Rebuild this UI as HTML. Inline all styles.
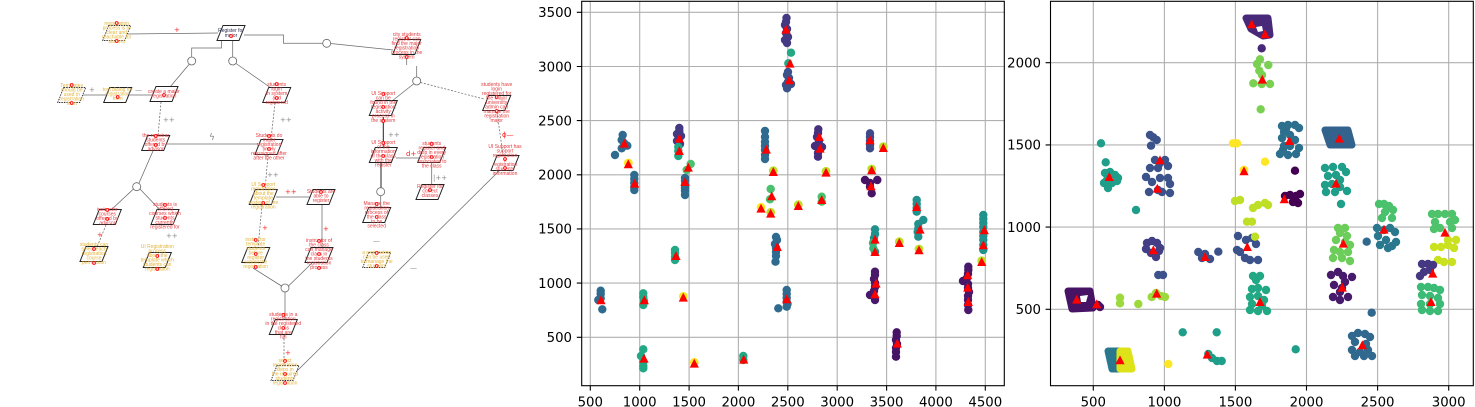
<!DOCTYPE html>
<html><head><meta charset="utf-8"><style>
html,body{margin:0;padding:0;background:#fff;}
svg{display:block;}
.tk{font-family:"DejaVu Sans","Liberation Sans",sans-serif;font-size:13.3px;fill:#000;}
.nt{font-family:"Liberation Sans","DejaVu Sans",sans-serif;font-size:5px;text-anchor:middle;}
.r{fill:#e23c40;} .y{fill:#e3b43a;} .d{fill:#2a3050;}
.lbl{font-family:"DejaVu Sans",sans-serif;font-size:7px;}
</style></head><body>
<svg width="1475" height="407" viewBox="0 0 1475 407" xmlns="http://www.w3.org/2000/svg">
<defs>
<path id="t" d="M0,-4.6L4.6,4.3L-4.6,4.3Z" fill="#ff0000"/>
<polygon id="pb" points="-8,-7.5 14,-7.5 8,7.5 -14,7.5" fill="#fff" stroke="#222" stroke-width="1"/>
<polygon id="pd" points="-8,-7.5 14,-7.5 8,7.5 -14,7.5" fill="#fff" stroke="#333" stroke-width="0.9" stroke-dasharray="1.5,1"/>
<circle id="ci" r="4" fill="#fff" stroke="#666" stroke-width="0.8"/>
<circle id="rd" r="1.4" fill="#fff" stroke="#ff1010" stroke-width="1"/>
</defs>

<!-- ================= LEFT DIAGRAM ================= -->
<g fill="none" stroke="#6a6a6a" stroke-width="0.75">
<path d="M128,34 L218,33"/>
<path d="M191.7,57 V48 H221.5 V41"/>
<path d="M232.7,57 V41"/>
<path d="M244,35 H283.5 V43.3 H322.7"/>
<path d="M330.7,43.5 L393,50"/>
<path d="M406.7,56 V65"/>
<path d="M416.7,66 V77"/>
<path d="M413.5,84 L392,101"/>
<path d="M420.5,82.5 L484,99" stroke-dasharray="2,1.5"/>
<path d="M383.3,117 V147" stroke="#222" stroke-width="1"/>
<path d="M396,158 H420"/>
<path d="M431.7,163 V184"/>
<path d="M381,163 V187.7" stroke="#222" stroke-width="1"/>
<path d="M380.7,195.7 V207"/>
<path d="M497,112 L503,155" stroke-dasharray="2,1.5"/>
<path d="M500,170 L296,372"/>
<path d="M189,64.5 L170,87"/>
<path d="M83,95 H106"/>
<path d="M128,95 H152"/>
<path d="M161,102 L158,136" stroke-dasharray="2,1.5"/>
<path d="M236,63.5 L271,88"/>
<path d="M275,103 L271,139" stroke-dasharray="2,1.5"/>
<path d="M167,144 H258"/>
<path d="M153,151 L139,183"/>
<path d="M133.5,189 L111,210"/>
<path d="M140,189 L160,210"/>
<path d="M106,225 L97,247" stroke-dasharray="2,1.5"/>
<path d="M268,155 L265,190" stroke-dasharray="2,1.5"/>
<path d="M276,197 H310"/>
<path d="M262,205 L258,248" stroke-dasharray="2,1.5"/>
<path d="M322,204 V248"/>
<path d="M253,268 L281.5,286"/>
<path d="M312,263 L288.5,286"/>
<path d="M285,292 V319"/>
<path d="M284,335 V365" stroke-dasharray="2,1.5"/>
</g>
<g class="lbl" fill="#888">
<text x="174" y="32" fill="#ff2020">+</text>
<text x="89" y="92">+</text>
<text x="135" y="92">—</text>
<text x="163" y="122">++</text>
<text x="280" y="122">++</text>
<text x="209" y="140" font-size="9">ϟ</text>
<text x="166" y="238">++</text>
<text x="97" y="237" fill="#ff2020">+</text>
<text x="267" y="177">++</text>
<text x="285" y="194" fill="#ff2020">++</text>
<text x="262" y="230" fill="#ff2020">+</text>
<text x="323" y="231" fill="#ff2020">+</text>
<text x="285" y="355" fill="#ff2020">+</text>
<text x="388" y="137">++</text>
<text x="406" y="156" fill="#ff2020">d+</text>
<text x="433" y="180">|++</text>
<text x="373" y="243">—</text>
<text x="502" y="137" fill="#ff2020">ɸ—</text>
<text x="410" y="270">—</text>
</g>
<g>
<use href="#ci" x="191.7" y="61"/><use href="#ci" x="232.7" y="61"/><use href="#ci" x="136.7" y="186.7"/>
<use href="#ci" x="285" y="288"/><use href="#ci" x="326.7" y="43.3"/><use href="#ci" x="416.7" y="81"/><use href="#ci" x="380.7" y="191.7"/>
</g>
<!-- nodes -->
<g>
<use href="#pb" x="231" y="33"/>
<text class="nt d" x="231" y="32">Register for</text><text class="nt d" x="231" y="37">major</text>

<use href="#pd" x="116.7" y="33"/>
<text class="nt y"><tspan x="116.7" y="25">registration</tspan><tspan x="116.7" y="29.5">process is to</tspan><tspan x="116.7" y="34">clear and</tspan><tspan x="116.7" y="38.5">reachable for</tspan><tspan x="116.7" y="43">student</tspan></text>

<use href="#pb" x="164" y="94"/>
<text class="nt r"><tspan x="164" y="93">create a major</tspan><tspan x="164" y="97.5">registration</tspan></text>

<use href="#pb" x="117.7" y="95"/>
<text class="nt y"><tspan x="117.7" y="91">tool dialog for</tspan><tspan x="117.7" y="95.5">registration</tspan><tspan x="117.7" y="100">form</tspan></text>

<use href="#pd" x="71.7" y="95"/>
<text class="nt y"><tspan x="71.7" y="87">Templates</tspan><tspan x="71.7" y="91.5">should be</tspan><tspan x="71.7" y="96">used in</tspan><tspan x="71.7" y="100.5">registration</tspan><tspan x="71.7" y="105">form</tspan></text>

<use href="#pb" x="276.7" y="95"/>
<text class="nt r"><tspan x="276.7" y="86">students</tspan><tspan x="276.7" y="90.5">login</tspan><tspan x="276.7" y="95">in system</tspan><tspan x="276.7" y="99.5">and</tspan><tspan x="276.7" y="104">registered</tspan></text>

<use href="#pb" x="155.7" y="143"/>
<text class="nt r"><tspan x="155.7" y="137">the registrar</tspan><tspan x="155.7" y="141.5">students</tspan><tspan x="155.7" y="146">offered by</tspan><tspan x="155.7" y="150.5">advisor</tspan></text>

<use href="#pb" x="269" y="147"/>
<text class="nt r"><tspan x="269" y="137">Students do</tspan><tspan x="269" y="141.5">major</tspan><tspan x="269" y="146">registration</tspan><tspan x="269" y="150.5">timely</tspan><tspan x="269" y="155">reassigned after</tspan><tspan x="269" y="159.5">after the other</tspan></text>

<use href="#pb" x="263.3" y="197"/>
<text class="nt y"><tspan x="263.3" y="186">UI Support</tspan><tspan x="263.3" y="190.5">registration</tspan><tspan x="263.3" y="195">about the</tspan><tspan x="263.3" y="199.5">template</tspan><tspan x="263.3" y="204">system of the</tspan><tspan x="263.3" y="208.5">registration</tspan></text>

<use href="#pb" x="107.3" y="217"/>
<text class="nt r"><tspan x="107.3" y="211">instructor</tspan><tspan x="107.3" y="215.5">courses</tspan><tspan x="107.3" y="220">offered by</tspan><tspan x="107.3" y="224.5">advisor</tspan></text>

<use href="#pb" x="165" y="217"/>
<text class="nt r"><tspan x="165" y="206">students is</tspan><tspan x="165" y="210.5">offered</tspan><tspan x="165" y="215">courses which</tspan><tspan x="165" y="219.5">students</tspan><tspan x="165" y="224">currently</tspan><tspan x="165" y="228.5">registered for</tspan></text>

<use href="#pb" x="94" y="254"/>
<text class="nt y"><tspan x="94" y="246">students can</tspan><tspan x="94" y="250.5">select each</tspan><tspan x="94" y="255">registration</tspan><tspan x="94" y="259.5">course</tspan><tspan x="94" y="264">permission</tspan></text>

<use href="#pb" x="157.3" y="260"/>
<text class="nt y"><tspan x="157.3" y="248">UI Registration</tspan><tspan x="157.3" y="252.5">process</tspan><tspan x="157.3" y="257">about the</tspan><tspan x="157.3" y="261.5">template which</tspan><tspan x="157.3" y="266">students can</tspan><tspan x="157.3" y="270.5">registration</tspan></text>

<use href="#pb" x="255.7" y="255"/>
<text class="nt y"><tspan x="255.7" y="241">instructor</tspan><tspan x="255.7" y="245.5">template</tspan><tspan x="255.7" y="250">students</tspan><tspan x="255.7" y="254.5">before</tspan><tspan x="255.7" y="259">register</tspan><tspan x="255.7" y="263.5">submit the</tspan><tspan x="255.7" y="268">registration</tspan></text>

<use href="#pb" x="283.3" y="327"/>
<text class="nt r"><tspan x="283.3" y="316">students in a</tspan><tspan x="283.3" y="320.5">registration</tspan><tspan x="283.3" y="325">in the registered</tspan><tspan x="283.3" y="329.5">class</tspan><tspan x="283.3" y="334">that are</tspan><tspan x="283.3" y="338.5">full</tspan></text>

<use href="#pd" x="285" y="373"/>
<text class="nt y"><tspan x="285" y="362">select</tspan><tspan x="285" y="366.5">registration</tspan><tspan x="285" y="371">steps in</tspan><tspan x="285" y="375.5">the required</tspan><tspan x="285" y="380">students</tspan><tspan x="285" y="384.5">registration</tspan></text>

<use href="#pb" x="406.7" y="47"/>
<text class="nt r"><tspan x="406.7" y="36">city students</tspan><tspan x="406.7" y="40.5">registrar can</tspan><tspan x="406.7" y="45">find the major</tspan><tspan x="406.7" y="49.5">registration</tspan><tspan x="406.7" y="54">process in the</tspan><tspan x="406.7" y="58.5">system</tspan></text>

<use href="#pb" x="383.3" y="108"/>
<text class="nt r"><tspan x="383.3" y="95">UI Support</tspan><tspan x="383.3" y="99.5">can be</tspan><tspan x="383.3" y="104">found in the</tspan><tspan x="383.3" y="108.5">registration</tspan><tspan x="383.3" y="113">activity</tspan><tspan x="383.3" y="117.5">process in</tspan><tspan x="383.3" y="122">the system</tspan></text>

<use href="#pb" x="496.7" y="103"/>
<text class="nt r"><tspan x="496.7" y="86">students have</tspan><tspan x="496.7" y="90.5">login</tspan><tspan x="496.7" y="95">registered for</tspan><tspan x="496.7" y="99.5">the major</tspan><tspan x="496.7" y="104">university</tspan><tspan x="496.7" y="108.5">admin can</tspan><tspan x="496.7" y="113">manage the</tspan><tspan x="496.7" y="117.5">registration</tspan><tspan x="496.7" y="122">major</tspan></text>

<use href="#pb" x="383.3" y="155"/>
<text class="nt r"><tspan x="383.3" y="144">UI Support</tspan><tspan x="383.3" y="148.5">of the</tspan><tspan x="383.3" y="153">information</tspan><tspan x="383.3" y="157.5">of the class</tspan><tspan x="383.3" y="162">with the</tspan><tspan x="383.3" y="166.5">register</tspan></text>

<use href="#pb" x="431.7" y="155"/>
<text class="nt r"><tspan x="431.7" y="145">students</tspan><tspan x="431.7" y="149.5">register and</tspan><tspan x="431.7" y="154">drop in every</tspan><tspan x="431.7" y="158.5">registration</tspan><tspan x="431.7" y="163">associated to</tspan><tspan x="431.7" y="167.5">the class</tspan></text>

<use href="#pb" x="430" y="192"/>
<text class="nt r"><tspan x="430" y="188">Register for</tspan><tspan x="430" y="192.5">correct</tspan><tspan x="430" y="197">classes</tspan></text>

<use href="#pb" x="505" y="163"/>
<text class="nt r"><tspan x="505" y="148">UI Support has</tspan><tspan x="505" y="152.5">support</tspan><tspan x="505" y="157">registration</tspan><tspan x="505" y="161.5">a</tspan><tspan x="505" y="166">registration</tspan><tspan x="505" y="170.5">students</tspan><tspan x="505" y="175">information</tspan></text>

<use href="#pb" x="376.7" y="215"/>
<text class="nt r"><tspan x="376.7" y="205">Manage the</tspan><tspan x="376.7" y="209.5">registration</tspan><tspan x="376.7" y="214">process of</tspan><tspan x="376.7" y="218.5">the class</tspan><tspan x="376.7" y="223">to be</tspan><tspan x="376.7" y="227.5">selected</tspan></text>

<use href="#pd" x="376.7" y="260"/>
<text class="nt y"><tspan x="376.7" y="254">a registration</tspan><tspan x="376.7" y="258.5">can be used</tspan><tspan x="376.7" y="263">to manage the</tspan><tspan x="376.7" y="267.5">students</tspan></text>

<use href="#pb" x="321" y="197"/>
<text class="nt r"><tspan x="321" y="193">Students are</tspan><tspan x="321" y="197.5">able to</tspan><tspan x="321" y="202">register</tspan></text>

<use href="#pb" x="319" y="255"/>
<text class="nt r"><tspan x="319" y="242">instructor of</tspan><tspan x="319" y="246.5">the class</tspan><tspan x="319" y="251">can manage</tspan><tspan x="319" y="255.5">class in</tspan><tspan x="319" y="260">the students</tspan><tspan x="319" y="264.5">registration</tspan><tspan x="319" y="269">process</tspan></text>
</g>
<g>
<use href="#rd" x="116.7" y="23"/><use href="#rd" x="116.7" y="41"/><use href="#rd" x="231" y="36"/>
<use href="#rd" x="164" y="95"/><use href="#rd" x="117.7" y="97"/><use href="#rd" x="71.7" y="85"/><use href="#rd" x="71.7" y="103"/>
<use href="#rd" x="276.7" y="84"/><use href="#rd" x="276.7" y="98"/><use href="#rd" x="155.7" y="136"/><use href="#rd" x="155.7" y="145"/>
<use href="#rd" x="269" y="136"/><use href="#rd" x="269" y="149"/><use href="#rd" x="263.3" y="185"/><use href="#rd" x="263.3" y="203"/>
<use href="#rd" x="107.3" y="210"/><use href="#rd" x="107.3" y="219"/><use href="#rd" x="165" y="205"/><use href="#rd" x="165" y="218"/>
<use href="#rd" x="94" y="249"/><use href="#rd" x="94" y="263"/><use href="#rd" x="157.3" y="256"/><use href="#rd" x="157.3" y="269"/>
<use href="#rd" x="255.7" y="240"/><use href="#rd" x="255.7" y="254"/><use href="#rd" x="255.7" y="267"/>
<use href="#rd" x="283.3" y="315"/><use href="#rd" x="283.3" y="328"/><use href="#rd" x="285" y="361"/><use href="#rd" x="285" y="374"/><use href="#rd" x="285" y="383"/>
<use href="#rd" x="406.7" y="38"/><use href="#rd" x="406.7" y="57"/><use href="#rd" x="383.3" y="94"/><use href="#rd" x="383.3" y="107"/><use href="#rd" x="383.3" y="121"/>
<use href="#rd" x="496.7" y="97"/><use href="#rd" x="496.7" y="111"/><use href="#rd" x="383.3" y="143"/><use href="#rd" x="383.3" y="156"/>
<use href="#rd" x="431.7" y="144"/><use href="#rd" x="431.7" y="157"/><use href="#rd" x="430" y="190"/><use href="#rd" x="505" y="159"/><use href="#rd" x="505" y="168"/>
<use href="#rd" x="376.7" y="204"/><use href="#rd" x="376.7" y="217"/><use href="#rd" x="376.7" y="253"/><use href="#rd" x="376.7" y="266"/>
<use href="#rd" x="321" y="192"/><use href="#rd" x="319" y="241"/><use href="#rd" x="319" y="254"/><use href="#rd" x="319" y="268"/>
</g>

<!-- ================= MIDDLE SCATTER ================= -->
<g stroke="#b0b0b0" stroke-width="1.1">
<path d="M590.3,1.3V385.7M639.7,1.3V385.7M689.1,1.3V385.7M738.4,1.3V385.7M787.8,1.3V385.7M837.2,1.3V385.7M886.6,1.3V385.7M935.9,1.3V385.7M985.3,1.3V385.7"/>
<path d="M581.7,337.3H1004.3M581.7,283.1H1004.3M581.7,228.9H1004.3M581.7,174.8H1004.3M581.7,120.6H1004.3M581.7,66.5H1004.3M581.7,12.3H1004.3"/>
</g>
<g>
<g fill="#443983"><circle cx="786.5" cy="18" r="4.2"/><circle cx="786" cy="22" r="4.2"/><circle cx="785" cy="25" r="4.2"/><circle cx="787" cy="29" r="4.2"/><circle cx="786" cy="33" r="4.2"/><circle cx="788" cy="37" r="4.2"/><circle cx="785" cy="40" r="4.2"/><circle cx="787" cy="43" r="4.2"/></g>
<g fill="#22a884"><circle cx="791" cy="52.7" r="4.2"/><circle cx="788.3" cy="63.3" r="4.2"/></g>
<g fill="#3b528b"><circle cx="788" cy="72" r="4.2"/><circle cx="787" cy="75" r="4.2"/><circle cx="789" cy="78" r="4.2"/><circle cx="788" cy="82" r="4.2"/><circle cx="786" cy="85" r="4.2"/><circle cx="791" cy="84" r="4.2"/><circle cx="787" cy="88.3" r="4.2"/></g>
<g fill="#2f6b8e">
<circle cx="615" cy="155" r="4.2"/><circle cx="622.7" cy="135" r="4.2"/><circle cx="621.7" cy="140" r="4.2"/><circle cx="621.7" cy="148.3" r="4.2"/><circle cx="627.3" cy="145.7" r="4.2"/><circle cx="624" cy="143" r="4.2"/>
<circle cx="634.3" cy="175" r="4.2"/><circle cx="634.3" cy="179" r="4.2"/><circle cx="634.3" cy="183" r="4.2"/><circle cx="634.3" cy="187" r="4.2"/><circle cx="634.3" cy="190" r="4.2"/>
<circle cx="685" cy="178" r="4.2"/><circle cx="685" cy="181" r="4.2"/><circle cx="685" cy="185" r="4.2"/><circle cx="685" cy="188" r="4.2"/><circle cx="685" cy="191" r="4.2"/><circle cx="685" cy="195" r="4.2"/>
<circle cx="600.7" cy="290.7" r="4.2"/><circle cx="600.7" cy="294" r="4.2"/><circle cx="600.7" cy="298.3" r="4.2"/><circle cx="598.3" cy="300" r="4.2"/><circle cx="602.3" cy="309.3" r="4.2"/>
<circle cx="765" cy="131" r="4.2"/><circle cx="765" cy="137" r="4.2"/><circle cx="765" cy="142" r="4.2"/><circle cx="765" cy="146" r="4.2"/><circle cx="765" cy="150" r="4.2"/><circle cx="765" cy="155" r="4.2"/><circle cx="765" cy="159" r="4.2"/>
<circle cx="776" cy="237" r="4.2"/><circle cx="777" cy="240" r="4.2"/><circle cx="775" cy="244" r="4.2"/><circle cx="776" cy="248" r="4.2"/><circle cx="776" cy="252" r="4.2"/><circle cx="776" cy="256" r="4.2"/><circle cx="775.5" cy="261.7" r="4.2"/>
<circle cx="786.7" cy="290" r="4.2"/><circle cx="786.7" cy="294" r="4.2"/><circle cx="786.7" cy="298" r="4.2"/><circle cx="786.7" cy="302" r="4.2"/><circle cx="787.5" cy="304" r="4.2"/><circle cx="786.7" cy="306.7" r="4.2"/><circle cx="778.3" cy="308.3" r="4.2"/>
</g>
<g fill="#443983"><circle cx="679.3" cy="128" r="4.2"/><circle cx="679.3" cy="131" r="4.2"/><circle cx="677" cy="134" r="4.2"/><circle cx="681" cy="136" r="4.2"/><circle cx="679" cy="139" r="4.2"/><circle cx="677" cy="141" r="4.2"/><circle cx="680" cy="144" r="4.2"/></g>
<g fill="#22a884">
<circle cx="678.3" cy="147" r="4.2"/><circle cx="678.3" cy="151" r="4.2"/><circle cx="678.3" cy="156" r="4.2"/>
<circle cx="675" cy="250" r="4.2"/><circle cx="675" cy="253" r="4.2"/><circle cx="675" cy="257" r="4.2"/><circle cx="675" cy="260" r="4.2"/>
<circle cx="643.3" cy="293.3" r="4.2"/><circle cx="643.3" cy="297" r="4.2"/><circle cx="644" cy="301" r="4.2"/><circle cx="643.3" cy="305" r="4.2"/>
<circle cx="643.3" cy="349.3" r="4.2"/><circle cx="641" cy="356" r="4.2"/><circle cx="643.3" cy="362" r="4.2"/><circle cx="643.3" cy="366" r="4.2"/><circle cx="643.3" cy="368.3" r="4.2"/>
<circle cx="743.3" cy="356" r="4.2"/><circle cx="743.3" cy="360" r="4.2"/>
</g>
<g fill="#4ac16d"><circle cx="686.7" cy="170" r="4.2"/><circle cx="690.7" cy="164" r="4.2"/><circle cx="770.7" cy="189" r="4.2"/><circle cx="770" cy="199.3" r="4.2"/><circle cx="821.7" cy="196.7" r="4.2"/><circle cx="821.7" cy="201.7" r="4.2"/></g>
<g fill="#fde725"><circle cx="628.3" cy="163" r="4.4"/><circle cx="683.3" cy="296.3" r="4.4"/><circle cx="694.3" cy="362.3" r="4.4"/><circle cx="761" cy="207.3" r="4.4"/></g>
<g fill="#bddf26"><circle cx="773.3" cy="170.7" r="4.4"/><circle cx="770.7" cy="212.3" r="4.4"/><circle cx="798.3" cy="204.7" r="4.4"/><circle cx="826" cy="171.3" r="4.4"/><circle cx="883.3" cy="146.7" r="4.4"/><circle cx="871.7" cy="169" r="4.4"/><circle cx="899.3" cy="241.7" r="4.4"/><circle cx="919" cy="249" r="4.4"/><circle cx="981.7" cy="260.7" r="4.4"/></g>
<g fill="#46307e"><circle cx="818.3" cy="129.3" r="4.2"/><circle cx="818" cy="133" r="4.2"/><circle cx="817" cy="137" r="4.2"/><circle cx="819" cy="141" r="4.2"/><circle cx="815" cy="146" r="4.2"/><circle cx="820" cy="149" r="4.2"/><circle cx="822" cy="147" r="4.2"/><circle cx="818" cy="153" r="4.2"/><circle cx="818" cy="156.7" r="4.2"/></g>
<g fill="#3e4a89"><circle cx="870" cy="133.3" r="4.2"/><circle cx="870" cy="137" r="4.2"/><circle cx="870" cy="141" r="4.2"/><circle cx="870" cy="145" r="4.2"/><circle cx="870" cy="148.3" r="4.2"/></g>
<g fill="#471365"><circle cx="865" cy="180" r="4.2"/><circle cx="877.3" cy="180" r="4.2"/><circle cx="870" cy="183" r="4.2"/><circle cx="870" cy="186.7" r="4.2"/><circle cx="871.7" cy="193.3" r="4.2"/>
<circle cx="896.7" cy="332.3" r="4.2"/><circle cx="896.7" cy="336" r="4.2"/><circle cx="896" cy="340" r="4.2"/><circle cx="897" cy="344" r="4.2"/><circle cx="896" cy="348" r="4.2"/><circle cx="896" cy="352" r="4.2"/><circle cx="896" cy="356.7" r="4.2"/></g>
<g fill="#21918c"><circle cx="875" cy="229.3" r="4.2"/><circle cx="875" cy="234" r="4.2"/><circle cx="874" cy="238" r="4.2"/><circle cx="875" cy="251.7" r="4.2"/>
<circle cx="916.7" cy="200" r="4.2"/><circle cx="916.7" cy="204" r="4.2"/><circle cx="916.7" cy="208" r="4.2"/><circle cx="916.7" cy="211.7" r="4.2"/>
<circle cx="923.3" cy="220" r="4.2"/><circle cx="918.3" cy="224" r="4.2"/><circle cx="918.3" cy="228.3" r="4.2"/><circle cx="917.7" cy="232" r="4.2"/><circle cx="918.3" cy="236.7" r="4.2"/>
<circle cx="983.3" cy="215" r="4.2"/><circle cx="983.3" cy="219" r="4.2"/><circle cx="983.3" cy="223" r="4.2"/><circle cx="983.3" cy="227" r="4.2"/><circle cx="983.3" cy="232" r="4.2"/><circle cx="983.3" cy="236" r="4.2"/><circle cx="983.3" cy="240" r="4.2"/><circle cx="983.3" cy="245" r="4.2"/><circle cx="983.3" cy="250" r="4.2"/></g>
<g fill="#35b779"><circle cx="873" cy="243" r="4.2"/><circle cx="873.3" cy="248.3" r="4.2"/></g>
<g fill="#48186a"><circle cx="875" cy="271.7" r="4.2"/><circle cx="875" cy="275" r="4.2"/><circle cx="874" cy="279" r="4.2"/><circle cx="875" cy="283" r="4.2"/><circle cx="875" cy="287" r="4.2"/><circle cx="874" cy="291" r="4.2"/><circle cx="870" cy="295" r="4.2"/><circle cx="875" cy="300" r="4.2"/>
<circle cx="968.3" cy="266.7" r="4.2"/><circle cx="968.3" cy="270" r="4.2"/><circle cx="968" cy="274" r="4.2"/><circle cx="967" cy="278" r="4.2"/><circle cx="963" cy="281" r="4.2"/><circle cx="968" cy="284" r="4.2"/><circle cx="968" cy="288" r="4.2"/><circle cx="969" cy="292" r="4.2"/><circle cx="968" cy="296" r="4.2"/><circle cx="968" cy="300" r="4.2"/><circle cx="968" cy="305" r="4.2"/><circle cx="968.3" cy="310" r="4.2"/></g>
</g>
<g>
<use href="#t" x="786" y="29.3"/><use href="#t" x="790" y="63.3"/><use href="#t" x="789.3" y="80"/>
<use href="#t" x="624.3" y="143.3"/><use href="#t" x="628.3" y="164"/><use href="#t" x="634.7" y="183.3"/>
<use href="#t" x="679.3" y="138.3"/><use href="#t" x="679.3" y="150.7"/><use href="#t" x="688.3" y="167.3"/><use href="#t" x="685" y="181.7"/>
<use href="#t" x="676" y="255.7"/><use href="#t" x="601" y="300"/><use href="#t" x="644.3" y="300"/><use href="#t" x="683.3" y="297.3"/>
<use href="#t" x="644" y="358.3"/><use href="#t" x="694.3" y="363.3"/><use href="#t" x="743.7" y="359.3"/>
<use href="#t" x="766.3" y="149.3"/><use href="#t" x="773.3" y="171.7"/><use href="#t" x="771.7" y="196"/><use href="#t" x="761" y="208.3"/><use href="#t" x="770.7" y="213.3"/>
<use href="#t" x="777.3" y="246.7"/><use href="#t" x="786.7" y="299"/><use href="#t" x="798.3" y="205.7"/>
<use href="#t" x="819.3" y="136.7"/><use href="#t" x="820" y="148.3"/><use href="#t" x="826" y="172.3"/><use href="#t" x="821.7" y="199.7"/>
<use href="#t" x="870" y="140"/><use href="#t" x="883.3" y="147.7"/><use href="#t" x="871.7" y="170"/><use href="#t" x="871" y="186"/>
<use href="#t" x="875" y="239.3"/><use href="#t" x="875" y="251.7"/><use href="#t" x="899.3" y="242.7"/><use href="#t" x="876" y="283.3"/><use href="#t" x="875" y="294"/>
<use href="#t" x="897.3" y="343.3"/><use href="#t" x="916.7" y="206.7"/><use href="#t" x="920" y="229.3"/><use href="#t" x="919" y="250"/>
<use href="#t" x="967.7" y="275"/><use href="#t" x="967.7" y="287.3"/><use href="#t" x="968.3" y="301.7"/>
<use href="#t" x="984.3" y="230"/><use href="#t" x="983.3" y="245"/><use href="#t" x="981.7" y="261.7"/>
</g>
<rect x="581.7" y="1.3" width="422.6" height="384.4" fill="none" stroke="#000" stroke-width="1.1"/>
<g stroke="#000" stroke-width="1.1">
<path d="M590.3,385.7v4.9M639.7,385.7v4.9M689.1,385.7v4.9M738.4,385.7v4.9M787.8,385.7v4.9M837.2,385.7v4.9M886.6,385.7v4.9M935.9,385.7v4.9M985.3,385.7v4.9"/>
<path d="M581.7,337.3h-4.9M581.7,283.1h-4.9M581.7,228.9h-4.9M581.7,174.8h-4.9M581.7,120.6h-4.9M581.7,66.5h-4.9M581.7,12.3h-4.9"/>
</g>
<g class="tk" text-anchor="middle">
<text x="590.3" y="406.5">500</text><text x="639.7" y="406.5">1000</text><text x="689.1" y="406.5">1500</text><text x="738.4" y="406.5">2000</text><text x="787.8" y="406.5">2500</text><text x="837.2" y="406.5">3000</text><text x="886.6" y="406.5">3500</text><text x="935.9" y="406.5">4000</text><text x="985.3" y="406.5">4500</text>
</g>
<g class="tk" text-anchor="end">
<text x="572" y="342.1">500</text><text x="572" y="287.9">1000</text><text x="572" y="233.7">1500</text><text x="572" y="179.6">2000</text><text x="572" y="125.4">2500</text><text x="572" y="71.3">3000</text><text x="572" y="17.1">3500</text>
</g>

<!-- ================= RIGHT SCATTER ================= -->
<g stroke="#b0b0b0" stroke-width="1.1">
<path d="M1093.3,1.3V385.7M1164.4,1.3V385.7M1235.4,1.3V385.7M1306.5,1.3V385.7M1377.6,1.3V385.7M1448.7,1.3V385.7"/>
<path d="M1050.5,309.3H1473.3M1050.5,227.1H1473.3M1050.5,144.9H1473.3M1050.5,62.7H1473.3"/>
</g>
<g>
<!-- blobs -->
<polygon points="1068,291 1090,291 1093,308 1072,309" fill="#471365" stroke="#471365" stroke-width="7" stroke-linejoin="round"/>
<g fill="#471365"><circle cx="1098" cy="305" r="4.2"/><circle cx="1100" cy="307" r="4.2"/></g>
<polygon points="1080,296 1088,295 1086,302 1081,302" fill="#fff"/>
<polygon points="1108,351 1120,351 1120,369 1112,369" fill="#2a788e" stroke="#2a788e" stroke-width="7" stroke-linejoin="round"/>
<polygon points="1120,351 1128,351 1132,369 1120,369" fill="#dde318" stroke="#dde318" stroke-width="7" stroke-linejoin="round"/>
<polygon points="1246,18 1268,18 1270,35 1263,36 1251,29" fill="#482878" stroke="#482878" stroke-width="7" stroke-linejoin="round"/>
<polygon points="1256,27 1262,26 1263,31 1258,32" fill="#fff"/>
<circle cx="1261.7" cy="48.3" r="4.2" fill="#482878"/>
<polygon points="1325,130 1348,130 1352,145 1330,145" fill="#33638d" stroke="#33638d" stroke-width="7" stroke-linejoin="round"/>
<g fill="#2d708e">
<circle cx="1282" cy="126" r="4.2"/><circle cx="1288" cy="125" r="4.2"/><circle cx="1295" cy="125" r="4.2"/><circle cx="1299" cy="128" r="4.2"/><circle cx="1284" cy="132" r="4.2"/><circle cx="1290" cy="135" r="4.2"/><circle cx="1282" cy="138" r="4.2"/><circle cx="1295" cy="140" r="4.2"/><circle cx="1284" cy="146" r="4.2"/><circle cx="1290" cy="146" r="4.2"/><circle cx="1280" cy="154" r="4.2"/><circle cx="1288" cy="155" r="4.2"/><circle cx="1296" cy="154" r="4.2"/><circle cx="1299" cy="148" r="4.2"/><circle cx="1286" cy="129" r="4.2"/><circle cx="1283" cy="150" r="4.2"/>
</g>
<g fill="#1f9e89">
<circle cx="1101" cy="143.3" r="4.2"/><circle cx="1105.7" cy="162.3" r="4.2"/><circle cx="1105" cy="173" r="4.2"/><circle cx="1110" cy="172" r="4.2"/><circle cx="1115" cy="175" r="4.2"/><circle cx="1118" cy="178" r="4.2"/><circle cx="1107" cy="180" r="4.2"/><circle cx="1104" cy="183" r="4.2"/><circle cx="1112" cy="183" r="4.2"/><circle cx="1108" cy="188" r="4.2"/><circle cx="1117" cy="181" r="4.2"/>
<circle cx="1136" cy="210" r="4.2"/><circle cx="1182.7" cy="332.3" r="4.2"/><circle cx="1216.7" cy="332.3" r="4.2"/><circle cx="1208.3" cy="354" r="4.2"/><circle cx="1212" cy="358" r="4.2"/><circle cx="1217" cy="361" r="4.2"/><circle cx="1221.7" cy="361" r="4.2"/>
<circle cx="1295.7" cy="349.3" r="4.2"/>
<circle cx="1325" cy="168" r="4.2"/><circle cx="1333" cy="167" r="4.2"/><circle cx="1342" cy="167" r="4.2"/><circle cx="1346" cy="172" r="4.2"/><circle cx="1328" cy="176" r="4.2"/><circle cx="1336" cy="175" r="4.2"/><circle cx="1340" cy="180" r="4.2"/><circle cx="1325" cy="185" r="4.2"/><circle cx="1332" cy="184" r="4.2"/><circle cx="1340" cy="187" r="4.2"/><circle cx="1347" cy="191" r="4.2"/><circle cx="1326" cy="192" r="4.2"/><circle cx="1335" cy="192" r="4.2"/><circle cx="1341" cy="204" r="4.2"/>
</g>
<g fill="#9bd93c"><circle cx="1120" cy="297.7" r="4.2"/><circle cx="1120" cy="303.3" r="4.2"/><circle cx="1138.3" cy="304" r="4.2"/>
<circle cx="1151.7" cy="297" r="4.2"/><circle cx="1156" cy="293" r="4.2"/><circle cx="1161" cy="296" r="4.2"/><circle cx="1165" cy="297" r="4.2"/></g>
<g fill="#3b528b">
<circle cx="1150" cy="135" r="4.2"/><circle cx="1153.3" cy="137.3" r="4.2"/><circle cx="1151" cy="145.7" r="4.2"/><circle cx="1156.7" cy="140" r="4.2"/>
<circle cx="1155" cy="160" r="4.2"/><circle cx="1160" cy="163" r="4.2"/><circle cx="1165" cy="160" r="4.2"/><circle cx="1168" cy="166" r="4.2"/><circle cx="1150" cy="168" r="4.2"/><circle cx="1158" cy="168" r="4.2"/><circle cx="1146" cy="177" r="4.2"/><circle cx="1152" cy="182" r="4.2"/><circle cx="1160" cy="178" r="4.2"/><circle cx="1168" cy="178" r="4.2"/><circle cx="1170" cy="184" r="4.2"/><circle cx="1158" cy="190" r="4.2"/><circle cx="1149" cy="192" r="4.2"/><circle cx="1162" cy="192" r="4.2"/><circle cx="1170" cy="193" r="4.2"/>
<circle cx="1158.3" cy="275" r="4.2"/><circle cx="1163" cy="275" r="4.2"/>
<circle cx="1198.3" cy="252" r="4.2"/><circle cx="1202" cy="258" r="4.2"/><circle cx="1210" cy="259" r="4.2"/><circle cx="1205" cy="254" r="4.2"/><circle cx="1218.3" cy="251.7" r="4.2"/>
<circle cx="1238" cy="236" r="4.2"/><circle cx="1246" cy="240" r="4.2"/><circle cx="1252" cy="238" r="4.2"/><circle cx="1256" cy="244" r="4.2"/><circle cx="1240" cy="252" r="4.2"/><circle cx="1245" cy="258" r="4.2"/><circle cx="1250" cy="260" r="4.2"/><circle cx="1258" cy="260" r="4.2"/><circle cx="1237" cy="250" r="4.2"/>
</g>
<g fill="#433e85"><circle cx="1147" cy="243" r="4.2"/><circle cx="1152" cy="241" r="4.2"/><circle cx="1157" cy="243" r="4.2"/><circle cx="1160" cy="248" r="4.2"/><circle cx="1146" cy="249" r="4.2"/><circle cx="1151" cy="253" r="4.2"/><circle cx="1156" cy="257" r="4.2"/><circle cx="1159" cy="251" r="4.2"/></g>
<g fill="#fde725"><circle cx="1233" cy="143.3" r="4.2"/><circle cx="1237" cy="143.3" r="4.2"/><circle cx="1265" cy="161.7" r="4.2"/><circle cx="1244" cy="170" r="4.4"/><circle cx="1168.3" cy="364" r="4.2"/></g>
<g fill="#bddf26"><circle cx="1235" cy="201" r="4.2"/><circle cx="1240" cy="200" r="4.2"/><circle cx="1253" cy="208" r="4.2"/><circle cx="1258" cy="205" r="4.2"/><circle cx="1265" cy="203" r="4.2"/><circle cx="1268" cy="205" r="4.2"/><circle cx="1247" cy="221.7" r="4.2"/><circle cx="1252" cy="221.7" r="4.2"/><circle cx="1255" cy="236.7" r="4.2"/></g>
<g fill="#22a884"><circle cx="1253" cy="276" r="4.2"/><circle cx="1260" cy="276" r="4.2"/><circle cx="1256" cy="280" r="4.2"/><circle cx="1252" cy="289" r="4.2"/><circle cx="1258" cy="288" r="4.2"/><circle cx="1266" cy="290" r="4.2"/><circle cx="1250" cy="297" r="4.2"/><circle cx="1258" cy="296" r="4.2"/><circle cx="1264" cy="300" r="4.2"/><circle cx="1252" cy="304" r="4.2"/><circle cx="1262" cy="306" r="4.2"/><circle cx="1250" cy="310" r="4.2"/><circle cx="1258" cy="311" r="4.2"/><circle cx="1267" cy="311" r="4.2"/></g>
<g fill="#7ad151"><circle cx="1260" cy="59.3" r="4.2"/><circle cx="1268.3" cy="65" r="4.2"/><circle cx="1257" cy="64" r="4.2"/><circle cx="1259.3" cy="70.7" r="4.2"/><circle cx="1262" cy="75" r="4.2"/><circle cx="1253.3" cy="83.3" r="4.2"/><circle cx="1261.7" cy="84" r="4.2"/><circle cx="1270" cy="84" r="4.2"/><circle cx="1260.7" cy="109.3" r="4.2"/></g>
<g fill="#440154"><circle cx="1295" cy="170.7" r="4.2"/><circle cx="1285" cy="196" r="4.2"/><circle cx="1290" cy="195" r="4.2"/><circle cx="1296" cy="196" r="4.2"/><circle cx="1300" cy="194" r="4.2"/><circle cx="1293" cy="202" r="4.2"/><circle cx="1298" cy="203" r="4.2"/></g>
<g fill="#6ccd5a"><circle cx="1338" cy="228" r="4.2"/><circle cx="1345" cy="228" r="4.2"/><circle cx="1340" cy="233" r="4.2"/><circle cx="1347" cy="236" r="4.2"/><circle cx="1336" cy="240" r="4.2"/><circle cx="1345" cy="242" r="4.2"/><circle cx="1350" cy="245" r="4.2"/><circle cx="1334" cy="250" r="4.2"/><circle cx="1340" cy="252" r="4.2"/><circle cx="1348" cy="252" r="4.2"/><circle cx="1333" cy="258" r="4.2"/><circle cx="1342" cy="258" r="4.2"/><circle cx="1350" cy="261" r="4.2"/></g>
<g fill="#481a6c"><circle cx="1331" cy="275" r="4.2"/><circle cx="1338" cy="272" r="4.2"/><circle cx="1343" cy="276" r="4.2"/><circle cx="1352" cy="277" r="4.2"/><circle cx="1345" cy="282" r="4.2"/><circle cx="1334" cy="285" r="4.2"/><circle cx="1342" cy="288" r="4.2"/><circle cx="1340" cy="292" r="4.2"/><circle cx="1333" cy="297" r="4.2"/><circle cx="1340" cy="300" r="4.2"/><circle cx="1348" cy="297" r="4.2"/></g>
<g fill="#31688e"><circle cx="1366.7" cy="241.7" r="4.2"/><circle cx="1371.7" cy="312.7" r="4.2"/>
<circle cx="1352" cy="336" r="4.2"/><circle cx="1358" cy="333" r="4.2"/><circle cx="1365" cy="334" r="4.2"/><circle cx="1370" cy="337" r="4.2"/><circle cx="1355" cy="342" r="4.2"/><circle cx="1366" cy="344" r="4.2"/><circle cx="1352" cy="350" r="4.2"/><circle cx="1360" cy="352" r="4.2"/><circle cx="1368" cy="350" r="4.2"/><circle cx="1355" cy="356" r="4.2"/><circle cx="1364" cy="356" r="4.2"/><circle cx="1372" cy="356" r="4.2"/></g>
<g fill="#4ac16d"><circle cx="1379" cy="204" r="4.2"/><circle cx="1384" cy="204" r="4.2"/><circle cx="1389" cy="206" r="4.2"/><circle cx="1393" cy="210" r="4.2"/><circle cx="1385" cy="212" r="4.2"/><circle cx="1392" cy="218" r="4.2"/><circle cx="1382" cy="218" r="4.2"/></g>
<g fill="#2a788e"><circle cx="1377" cy="228" r="4.2"/><circle cx="1384" cy="230" r="4.2"/><circle cx="1390" cy="228" r="4.2"/><circle cx="1395" cy="232" r="4.2"/><circle cx="1378" cy="236" r="4.2"/><circle cx="1386" cy="240" r="4.2"/><circle cx="1380" cy="245" r="4.2"/><circle cx="1388" cy="248" r="4.2"/><circle cx="1392" cy="246" r="4.2"/><circle cx="1396" cy="242" r="4.2"/></g>
<g fill="#4ec36b"><circle cx="1432" cy="214" r="4.2"/><circle cx="1438" cy="214" r="4.2"/><circle cx="1445" cy="214" r="4.2"/><circle cx="1452" cy="214" r="4.2"/><circle cx="1455" cy="220" r="4.2"/><circle cx="1435" cy="222" r="4.2"/><circle cx="1450" cy="222" r="4.2"/><circle cx="1440" cy="228" r="4.2"/><circle cx="1452" cy="228" r="4.2"/><circle cx="1434" cy="229" r="4.2"/></g>
<g fill="#cae11f"><circle cx="1434" cy="247" r="4.2"/><circle cx="1441" cy="247" r="4.2"/><circle cx="1448" cy="245" r="4.2"/><circle cx="1454" cy="248" r="4.2"/><circle cx="1456" cy="240" r="4.2"/><circle cx="1448" cy="240" r="4.2"/><circle cx="1438" cy="260" r="4.2"/><circle cx="1444" cy="262" r="4.2"/><circle cx="1452" cy="262" r="4.2"/></g>
<g fill="#453781"><circle cx="1422" cy="264" r="4.2"/><circle cx="1428" cy="264" r="4.2"/><circle cx="1433" cy="265" r="4.2"/><circle cx="1430" cy="270" r="4.2"/><circle cx="1424" cy="272" r="4.2"/><circle cx="1420" cy="276" r="4.2"/></g>
<g fill="#3bbb75"><circle cx="1421" cy="287" r="4.2"/><circle cx="1428" cy="287" r="4.2"/><circle cx="1434" cy="288" r="4.2"/><circle cx="1440" cy="290" r="4.2"/><circle cx="1422" cy="295" r="4.2"/><circle cx="1430" cy="296" r="4.2"/><circle cx="1438" cy="298" r="4.2"/><circle cx="1421" cy="304" r="4.2"/><circle cx="1430" cy="304" r="4.2"/><circle cx="1440" cy="304" r="4.2"/><circle cx="1422" cy="310" r="4.2"/><circle cx="1430" cy="311" r="4.2"/><circle cx="1438" cy="311" r="4.2"/></g>
</g>
<g>
<use href="#t" x="1076.7" y="299.3"/><use href="#t" x="1096.7" y="304"/><use href="#t" x="1120" y="360"/><use href="#t" x="1109.3" y="176.7"/>
<use href="#t" x="1160" y="160"/><use href="#t" x="1157.3" y="188.3"/><use href="#t" x="1153.3" y="250"/><use href="#t" x="1156.7" y="293.3"/>
<use href="#t" x="1205" y="256.7"/><use href="#t" x="1207.3" y="354.3"/><use href="#t" x="1244" y="171"/><use href="#t" x="1247.3" y="246.7"/>
<use href="#t" x="1260" y="301.7"/><use href="#t" x="1251.7" y="24"/><use href="#t" x="1265" y="34"/><use href="#t" x="1262.3" y="79.3"/>
<use href="#t" x="1289.3" y="140.7"/><use href="#t" x="1284.3" y="199"/><use href="#t" x="1339.3" y="138.3"/><use href="#t" x="1336" y="183.3"/>
<use href="#t" x="1343.3" y="243.3"/><use href="#t" x="1342.3" y="287.3"/><use href="#t" x="1362.3" y="345"/><use href="#t" x="1384" y="229.3"/>
<use href="#t" x="1445" y="232.3"/><use href="#t" x="1432.7" y="273.3"/><use href="#t" x="1431" y="301.7"/>
</g>
<rect x="1050.5" y="1.3" width="422.8" height="384.4" fill="none" stroke="#000" stroke-width="1.1"/>
<g stroke="#000" stroke-width="1.1">
<path d="M1093.3,385.7v4.9M1164.4,385.7v4.9M1235.4,385.7v4.9M1306.5,385.7v4.9M1377.6,385.7v4.9M1448.7,385.7v4.9"/>
<path d="M1050.5,309.3h-4.9M1050.5,227.1h-4.9M1050.5,144.9h-4.9M1050.5,62.7h-4.9"/>
</g>
<g class="tk" text-anchor="middle">
<text x="1093.3" y="406.5">500</text><text x="1164.4" y="406.5">1000</text><text x="1235.4" y="406.5">1500</text><text x="1306.5" y="406.5">2000</text><text x="1377.6" y="406.5">2500</text><text x="1448.7" y="406.5">3000</text>
</g>
<g class="tk" text-anchor="end">
<text x="1041" y="314.1">500</text><text x="1041" y="231.9">1000</text><text x="1041" y="149.7">1500</text><text x="1041" y="67.5">2000</text>
</g>
</svg>
</body></html>
